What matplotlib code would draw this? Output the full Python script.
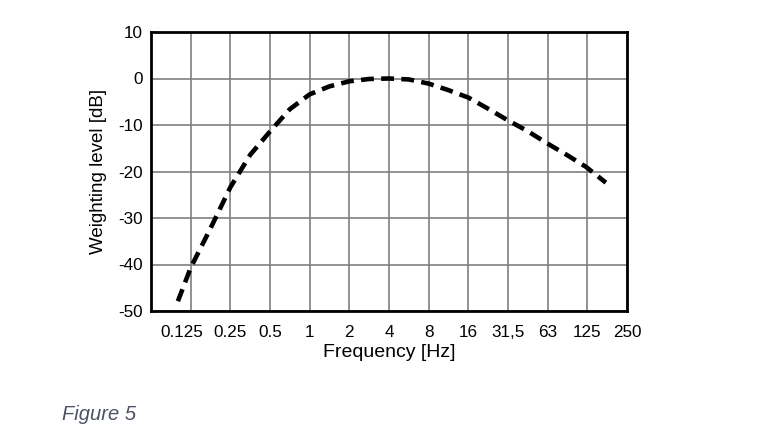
import matplotlib
matplotlib.use("Agg")
import matplotlib.pyplot as plt
from matplotlib.transforms import ScaledTranslation

plt.rcParams['font.family'] = ['Liberation Sans', 'DejaVu Sans']

# Data
freq_hz = [0.1, 0.125, 0.177, 0.25, 0.354, 0.5, 0.707, 1.0, 1.41, 2.0, 2.83,
           4.0, 5.66, 8.0, 11.3, 16.0, 22.6, 31.5, 45.0, 63.0, 89.0, 125.0, 177.0]
weight_db = [-47.9, -40.7, -32.2, -23.4, -16.4, -11.4, -6.6, -3.4, -1.7, -0.6, -0.1,
             0.0, -0.2, -1.1, -2.5, -4.1, -6.5, -8.9, -11.3, -13.9, -16.4, -19.0, -22.4]

xtick_pos = [0.125, 0.25, 0.5, 1, 2, 4, 8, 16, 32, 64, 128, 256]
xtick_labels = ['0.125', '0.25', '0.5', '1', '2', '4', '8', '16', '31,5', '63', '125', '250']
ytick_vals = [10, 0, -10, -20, -30, -40, -50]

fig = plt.figure(figsize=(7.8, 4.45), dpi=100)
ax = fig.add_axes([151/780, 1 - 311/445, (627 - 151)/780, (311 - 32)/445])

ax.set_xscale('log', base=2)
ax.set_xlim(0.0625, 256)
ax.set_ylim(-50, 10)

ax.plot(freq_hz, weight_db, color='black', linewidth=3.3, linestyle=(0, (2.8, 1.6)),
        dash_capstyle='butt', zorder=3)

ax.set_xticks(xtick_pos)
ax.set_xticklabels(xtick_labels)
ax.minorticks_off()
ax.set_yticks(ytick_vals)
ax.set_yticklabels([str(v) for v in ytick_vals])
ax.tick_params(axis='both', length=0, labelsize=12.3, colors='black')
ax.tick_params(axis='x', pad=10)
ax.tick_params(axis='y', pad=6)

ax.grid(True, color='#7f7f7f', linewidth=1.2)
ax.set_axisbelow(True)
for s in ax.spines.values():
    s.set_linewidth(2.0)
    s.set_color('black')

ax.set_xlabel('Frequency [Hz]', fontsize=14, labelpad=3)
ax.set_ylabel('Weighting level [dB]', fontsize=13.5, labelpad=8)

# first tick label sits slightly left of its gridline in the reference
lab0 = ax.get_xticklabels()[0]
lab0.set_transform(lab0.get_transform() + ScaledTranslation(-8.5/100, 0, fig.dpi_scale_trans))

fig.text(62/780, 1 - 414/445, 'Figure 5', fontsize=14.5, style='italic',
         color='#4a5263', va='center', ha='left')

fig.savefig('out.png', dpi=100)
